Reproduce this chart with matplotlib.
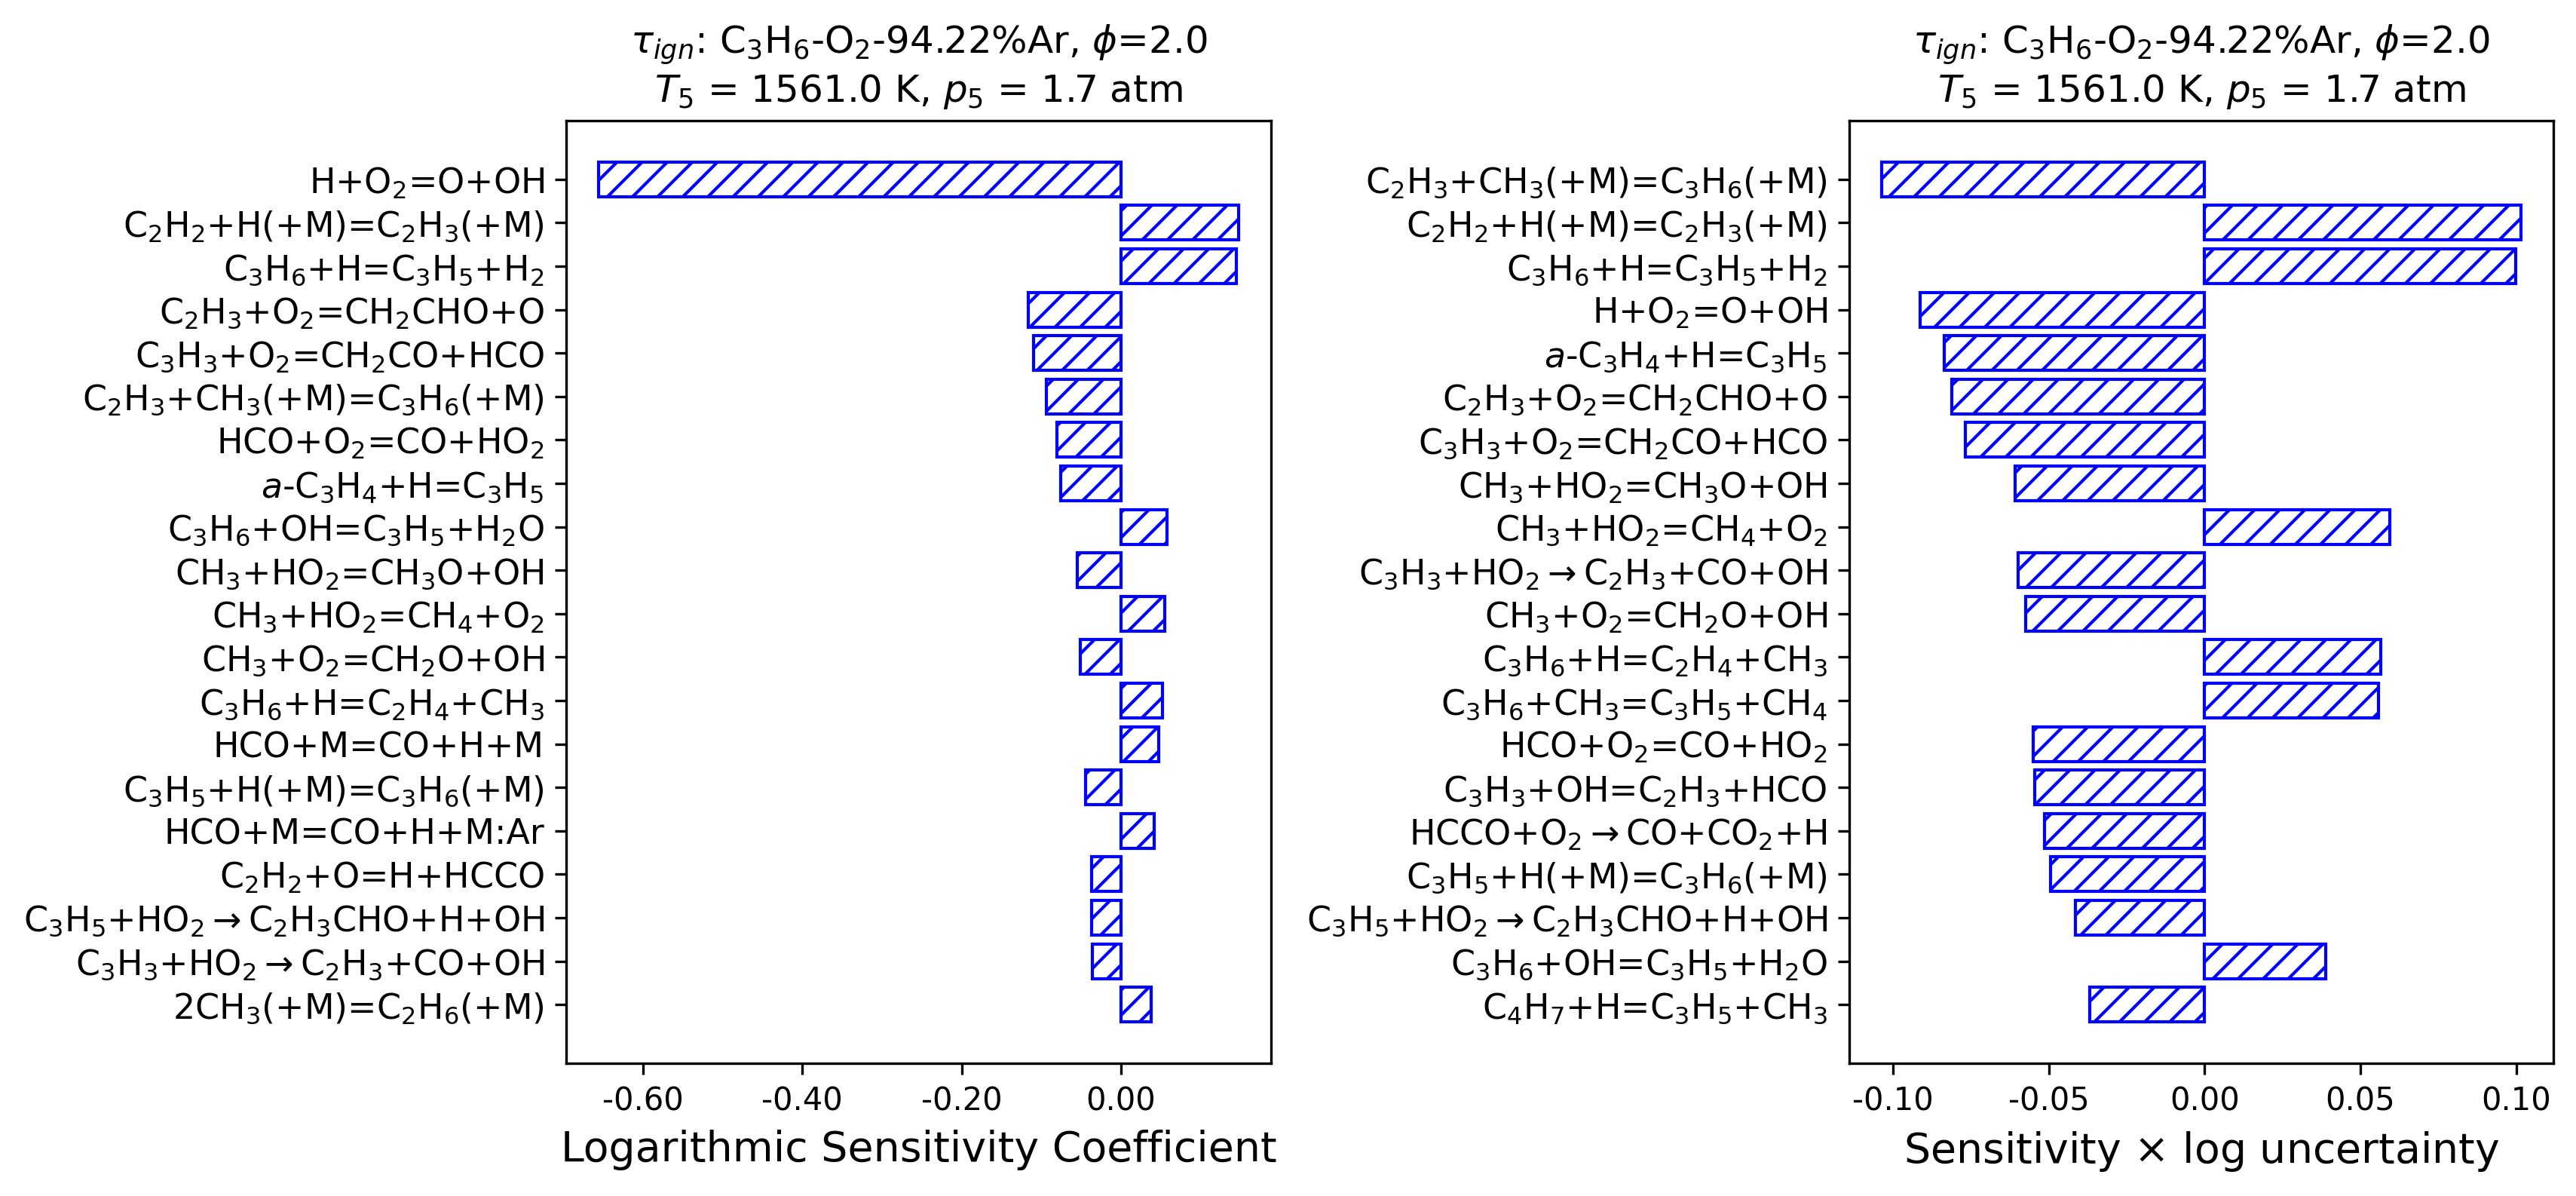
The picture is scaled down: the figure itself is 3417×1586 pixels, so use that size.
import matplotlib
matplotlib.use("Agg")
import matplotlib.pyplot as plt
from matplotlib.ticker import FormatStrFormatter, MultipleLocator
import numpy as np

# left panel: logarithmic sensitivity coefficients (top to bottom)
rxn_left = [
    r'H+O$_2$=O+OH',
    r'C$_2$H$_2$+H(+M)=C$_2$H$_3$(+M)',
    r'C$_3$H$_6$+H=C$_3$H$_5$+H$_2$',
    r'C$_2$H$_3$+O$_2$=CH$_2$CHO+O',
    r'C$_3$H$_3$+O$_2$=CH$_2$CO+HCO',
    r'C$_2$H$_3$+CH$_3$(+M)=C$_3$H$_6$(+M)',
    r'HCO+O$_2$=CO+HO$_2$',
    r'$a$-C$_3$H$_4$+H=C$_3$H$_5$',
    r'C$_3$H$_6$+OH=C$_3$H$_5$+H$_2$O',
    r'CH$_3$+HO$_2$=CH$_3$O+OH',
    r'CH$_3$+HO$_2$=CH$_4$+O$_2$',
    r'CH$_3$+O$_2$=CH$_2$O+OH',
    r'C$_3$H$_6$+H=C$_2$H$_4$+CH$_3$',
    r'HCO+M=CO+H+M',
    r'C$_3$H$_5$+H(+M)=C$_3$H$_6$(+M)',
    r'HCO+M=CO+H+M:Ar',
    r'C$_2$H$_2$+O=H+HCCO',
    r'C$_3$H$_5$+HO$_2$$\rightarrow$C$_2$H$_3$CHO+H+OH',
    r'C$_3$H$_3$+HO$_2$$\rightarrow$C$_2$H$_3$+CO+OH',
    r'2CH$_3$(+M)=C$_2$H$_6$(+M)',
]
sens_left = [-0.656, 0.148, 0.145, -0.116, -0.110, -0.094, -0.080, -0.076,
             0.058, -0.055, 0.055, -0.051, 0.052, 0.047, -0.044, 0.042,
             -0.037, -0.037, -0.036, 0.038]

# right panel: sensitivity x log uncertainty (top to bottom)
rxn_right = [
    r'C$_2$H$_3$+CH$_3$(+M)=C$_3$H$_6$(+M)',
    r'C$_2$H$_2$+H(+M)=C$_2$H$_3$(+M)',
    r'C$_3$H$_6$+H=C$_3$H$_5$+H$_2$',
    r'H+O$_2$=O+OH',
    r'$a$-C$_3$H$_4$+H=C$_3$H$_5$',
    r'C$_2$H$_3$+O$_2$=CH$_2$CHO+O',
    r'C$_3$H$_3$+O$_2$=CH$_2$CO+HCO',
    r'CH$_3$+HO$_2$=CH$_3$O+OH',
    r'CH$_3$+HO$_2$=CH$_4$+O$_2$',
    r'C$_3$H$_3$+HO$_2$$\rightarrow$C$_2$H$_3$+CO+OH',
    r'CH$_3$+O$_2$=CH$_2$O+OH',
    r'C$_3$H$_6$+H=C$_2$H$_4$+CH$_3$',
    r'C$_3$H$_6$+CH$_3$=C$_3$H$_5$+CH$_4$',
    r'HCO+O$_2$=CO+HO$_2$',
    r'C$_3$H$_3$+OH=C$_2$H$_3$+HCO',
    r'HCCO+O$_2$$\rightarrow$CO+CO$_2$+H',
    r'C$_3$H$_5$+H(+M)=C$_3$H$_6$(+M)',
    r'C$_3$H$_5$+HO$_2$$\rightarrow$C$_2$H$_3$CHO+H+OH',
    r'C$_3$H$_6$+OH=C$_3$H$_5$+H$_2$O',
    r'C$_4$H$_7$+H=C$_3$H$_5$+CH$_3$',
]
sens_right = [-0.1037, 0.1016, 0.0997, -0.0913, -0.0836, -0.0810, -0.0767,
              -0.0608, 0.0595, -0.0598, -0.0574, 0.0566, 0.0558, -0.0550,
              -0.0545, -0.0513, -0.0495, -0.0415, 0.0389, -0.0368]

title = (r'$\tau_{ign}$: C$_3$H$_6$-O$_2$-94.22%Ar, $\phi$=2.0' + '\n' +
         r'$T_5$ = 1561.0 K, $p_5$ = 1.7 atm')

plt.rcParams['hatch.color'] = 'blue'

fig = plt.figure(figsize=(11.39, 5.287), dpi=300)
ax1 = fig.add_axes([0.2198, 0.111, 0.2736, 0.788])
ax2 = fig.add_axes([0.7179, 0.111, 0.2733, 0.788])

panels = [
    (ax1, rxn_left, sens_left, 'Logarithmic Sensitivity Coefficient', 0.2),
    (ax2, rxn_right, sens_right, r'Sensitivity $\times$ log uncertainty', 0.05),
]
for ax, names, vals, xlab, step in panels:
    y = np.arange(len(vals))
    ax.barh(y, vals, height=0.8, color='white', edgecolor='blue',
            hatch='///', linewidth=1.0)
    ax.set_yticks(y)
    ax.set_yticklabels(names, fontsize=11)
    ax.set_ylim(len(vals) - 1 + 1.35, -1.35)
    ax.xaxis.set_major_locator(MultipleLocator(step))
    ax.xaxis.set_major_formatter(FormatStrFormatter('%.2f'))
    ax.tick_params(axis='x', labelsize=10)
    ax.set_xlabel(xlab, fontsize=13.3)
    ax.set_title(title, fontsize=12)

fig.savefig('out.png', dpi=300)
